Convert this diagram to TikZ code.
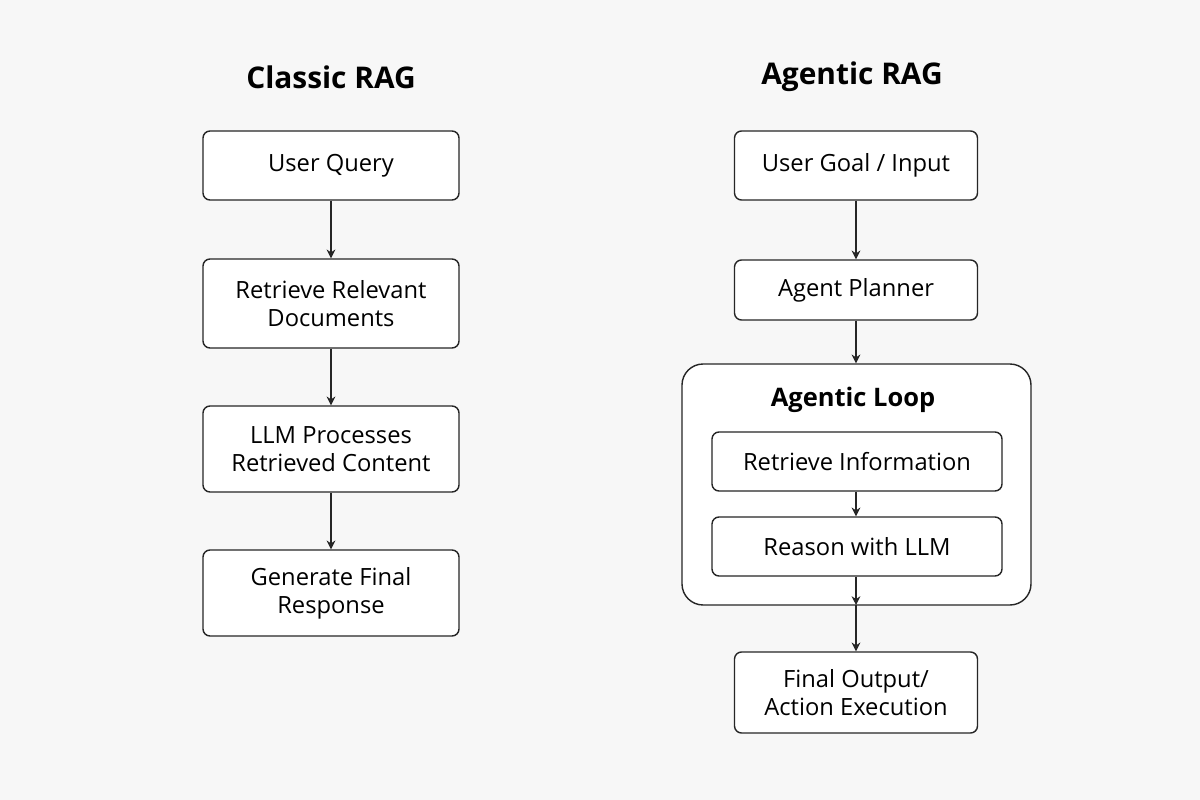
\documentclass[tikz,border=0pt]{standalone}
\usepackage{fontspec}
\setmainfont{Open Sans}
\usetikzlibrary{arrows.meta}
\begin{document}
\begin{tikzpicture}[x=0.02cm,y=-0.02cm,
 box/.style={draw=black!85,line width=0.8pt,rounded corners=4pt,fill=white,align=center,font=\fontsize{13.5}{16}\selectfont,inner sep=0pt},
 ttl/.style={font=\fontsize{17}{20}\selectfont\bfseries},
 arr/.style={-{Stealth[length=5pt,width=5pt]},line width=0.7pt,draw=black!85}]
\fill[black!3] (0,0) rectangle (1200,800);
\useasboundingbox (0,0) rectangle (1200,800);
\node[ttl] (t1) at (331,77) {Classic RAG};
\node[ttl] (t2) at (852,77) {Agentic RAG};
\node[box,minimum width=256*0.02cm,minimum height=69*0.02cm] (a1) at (331,165.5) {User Query};
\node[box,minimum width=256*0.02cm,minimum height=89*0.02cm] (a2) at (331,303.5) {Retrieve Relevant\\Documents};
\node[box,minimum width=256*0.02cm,minimum height=86*0.02cm] (a3) at (331,449) {LLM Processes\\Retrieved Content};
\node[box,minimum width=256*0.02cm,minimum height=86*0.02cm] (a4) at (331,593) {Generate Final\\Response};
\draw[arr] (a1) -- (a2); \draw[arr] (a2) -- (a3); \draw[arr] (a3) -- (a4);
\node[box,minimum width=243*0.02cm,minimum height=69*0.02cm] (b1) at (856,165.5) {User Goal / Input};
\node[box,minimum width=243*0.02cm,minimum height=60*0.02cm] (b2) at (856,290) {Agent Planner};
\node[box,rounded corners=12pt,minimum width=349*0.02cm,minimum height=241*0.02cm] (loop) at (856.5,484.5) {};
\node[ttl,font=\fontsize{14.5}{17}\selectfont\bfseries] (lt) at (853,400) {Agentic Loop};
\node[box,minimum width=290*0.02cm,minimum height=59*0.02cm] (c1) at (857,461.5) {Retrieve Information};
\node[box,minimum width=290*0.02cm,minimum height=59*0.02cm] (c2) at (857,546.5) {Reason with LLM};
\node[box,minimum width=243*0.02cm,minimum height=81*0.02cm] (b3) at (856,692.5) {Final Output/\\Action Execution};
\coordinate (lb) at (856,605);
\draw[arr] (b1) -- (b2);
\draw[arr] (b2.south) -- (b2.south|-loop.north);
\draw[arr] (c1.south-|856,0) -- (c2.north-|856,0);
\draw[arr] (c2.south-|856,0) -- (lb);
\draw[arr] (lb) -- (b3);
\end{tikzpicture}
\end{document}
